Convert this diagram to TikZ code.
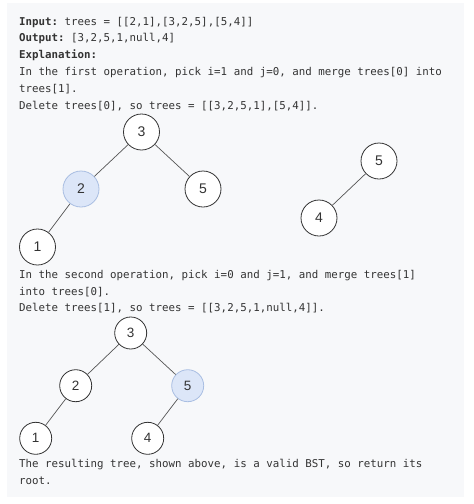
\documentclass[tikz,border=0pt]{standalone}
\usepackage{fontspec}
\setmonofont{DejaVu Sans Mono}
\newfontfamily\numfont{Liberation Sans}
\definecolor{panel}{HTML}{F7F8FA}
\definecolor{txt}{HTML}{333333}
\definecolor{edgec}{HTML}{555555}
\definecolor{bluefill}{HTML}{DCE6F8}
\definecolor{bluedraw}{HTML}{A9BEE2}
\tikzset{
  codeline/.style={anchor=base west, inner sep=0pt, text=txt, font=\ttfamily\fontsize{10.8}{13}\selectfont},
  tnode/.style={circle, draw=txt, fill=white, line width=0.8pt, minimum size=36pt, inner sep=0pt, text=txt, font=\numfont\fontsize{14}{16}\selectfont},
  snode/.style={tnode, minimum size=32pt, font=\numfont\fontsize{13.5}{16}\selectfont},
  hl/.style={fill=bluefill, draw=bluedraw},
  tedge/.style={draw=edgec, line width=0.7pt}
}
\begin{document}
\begin{tikzpicture}[x=1pt,y=-1pt]
\useasboundingbox (0,0) rectangle (474,504);
\fill[white] (0,0) rectangle (474,504);
\fill[panel] (7,3) rectangle (464,497);
% text
\node[codeline] (l1) at (19,25) {\textbf{Input:} trees = [[2,1],[3,2,5],[5,4]]};
\node[codeline] (l2) at (19,41.5) {\textbf{Output:} [3,2,5,1,null,4]};
\node[codeline] (l3) at (19,58.5) {\textbf{Explanation:}};
\node[codeline] (l4) at (19,75.3) {In the first operation, pick i=1 and j=0, and merge trees[0] into};
\node[codeline] (l5) at (19,92.2) {trees[1].};
\node[codeline] (l6) at (19,109) {Delete trees[0], so trees = [[3,2,5,1],[5,4]].};
% tree 1
\node[tnode] (a3) at (141.5,132) {3};
\node[tnode,hl] (a2) at (81,189) {2};
\node[tnode] (a5) at (203,189) {5};
\node[tnode] (a1) at (37.5,247) {1};
\node[tnode] (b5) at (379,161) {5};
\node[tnode] (b4) at (319,218) {4};
\draw[tedge] (a3) -- (a2);
\draw[tedge] (a3) -- (a5);
\draw[tedge] (a2) -- (a1);
\draw[tedge] (b5) -- (b4);
% text 2
\node[codeline] (m1) at (19,278.3) {In the second operation, pick i=0 and j=1, and merge trees[1]};
\node[codeline] (m2) at (19,295) {into trees[0].};
\node[codeline] (m3) at (19,311.8) {Delete trees[1], so trees = [[3,2,5,1,null,4]].};
% tree 2
\node[snode] (c3) at (130.7,333) {3};
\node[snode] (c2) at (75.7,385.7) {2};
\node[snode,hl] (c5) at (187.7,385.7) {5};
\node[snode] (c1) at (35.7,438.3) {1};
\node[snode] (c4) at (147.7,438.3) {4};
\draw[tedge] (c3) -- (c2);
\draw[tedge] (c3) -- (c5);
\draw[tedge] (c2) -- (c1);
\draw[tedge] (c5) -- (c4);
% final text
\node[codeline] (n1) at (19,467.5) {The resulting tree, shown above, is a valid BST, so return its};
\node[codeline] (n2) at (19,484.2) {root.};
\end{tikzpicture}
\end{document}
